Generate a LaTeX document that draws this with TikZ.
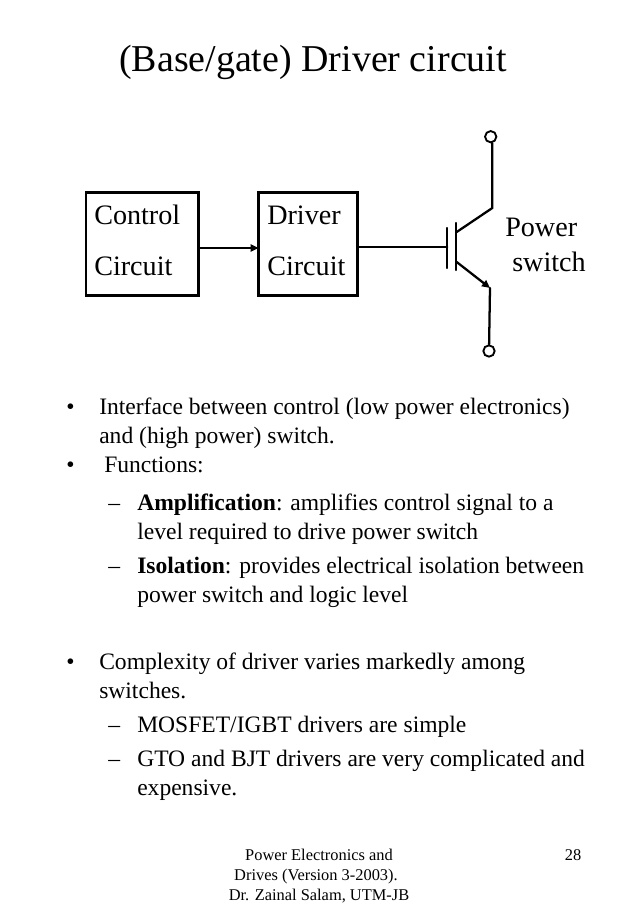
\documentclass[tikz,border=0pt]{standalone}
\usepackage{fontspec}
\setmainfont{Liberation Serif}
\usetikzlibrary{arrows.meta}
\tikzset{x=0.75pt,y=-0.75pt,
 blockbox/.style={draw=black,line width=1.9pt,inner sep=0pt,outer sep=0pt,anchor=north west,minimum height=77.25pt},
 txt/.style={anchor=base west,inner sep=0pt,font=\fontsize{21.1pt}{24pt}\selectfont},
 body/.style={anchor=base west,inner sep=0pt,font=\fontsize{17.67pt}{22pt}\selectfont},
 small/.style={anchor=base,inner sep=0pt,font=\fontsize{12.3pt}{16pt}\selectfont},
 wire/.style={line width=1.7pt,line cap=round},
 term/.style={circle,draw=black,line width=1.4pt,minimum size=8.5pt,inner sep=0pt}}
\begin{document}
\begin{tikzpicture}
\useasboundingbox (0,0) rectangle (638,922);
\fill[white] (0,0) rectangle (638,922);
\node[anchor=base west,inner sep=0pt,font=\fontsize{28.45pt}{34pt}\selectfont] (title) at (119,71) {(Base/gate) Driver circuit};
\node[blockbox,minimum width=84.4pt] (ctrl) at (86,192.5) {};
\node[blockbox,minimum width=74.25pt] (drv) at (258.5,192.5) {};
\node[txt] (c1) at (94,224) {Control};
\node[txt] (c2) at (94,275) {Circuit};
\node[txt] (d1) at (267,224) {Driver};
\node[txt] (d2) at (267,275) {Circuit};
\node[txt] (p1) at (505,236) {Power};
\node[txt] (p2) at (512,271) {switch};
\draw[line width=1.6pt,-{Triangle[length=6pt,width=5.5pt]}] (ctrl.east |- 0,248) -- (drv.west |- 0,248);
\coordinate (gatein) at (447.3,246.7);
\draw[wire] (drv.east |- gatein) -- (gatein);
\draw[wire] (447.3,228) -- (447.3,268);
\draw[wire] (456,223) -- (456,270);
\node[term] (top) at (490.7,136.7) {};
\node[term] (bot) at (489,351) {};
\coordinate (ctop) at (492.3,208);
\coordinate (cbot) at (490,288);
\coordinate (cbase) at (456.7,232);
\coordinate (ebase) at (456.7,262);
\draw[wire] (top) -- (ctop |- top.south) -- (ctop) -- (cbase);
\draw[wire,-{Triangle[length=6pt,width=5.5pt]}] (ebase) -- (cbot);
\draw[wire] (cbot) -- (bot);
\node[body] (b1) at (66,414) {•};
\node[body] (l1) at (99,414) {Interface between control (low power electronics)};
\node[body] (l2) at (99,443) {and (high power) switch.};
\node[body] (b2) at (66,472) {•};
\node[body] (l3) at (104,472) {Functions:};
\node[body] (d3) at (108,510) {–};
\node[body] (l4) at (137,510) {\textbf{Amplification}: amplifies control signal to a};
\node[body] (l5) at (137,539) {level required to drive power switch};
\node[body] (d4) at (108,573) {–};
\node[body] (l6) at (137,573) {\textbf{Isolation}: provides electrical isolation between};
\node[body] (l7) at (137,602) {power switch and logic level};
\node[body] (b3) at (66,669) {•};
\node[body] (l8) at (99,669) {Complexity of driver varies markedly among};
\node[body] (l9) at (99,698) {switches.};
\node[body] (d5) at (108,732) {–};
\node[body] (l10) at (137,732) {MOSFET/IGBT drivers are simple};
\node[body] (d6) at (108,766) {–};
\node[body] (l11) at (137,766) {GTO and BJT drivers are very complicated and};
\node[body] (l12) at (137,795) {expensive.};
\node[small] (f1) at (319,860) {Power Electronics and};
\node[small] (f2) at (316,880.5) {Drives (Version 3-2003).};
\node[small] (f3) at (319,900) {Dr. Zainal Salam, UTM-JB};
\node[small] (pg) at (573,860) {28};
\end{tikzpicture}
\end{document}
